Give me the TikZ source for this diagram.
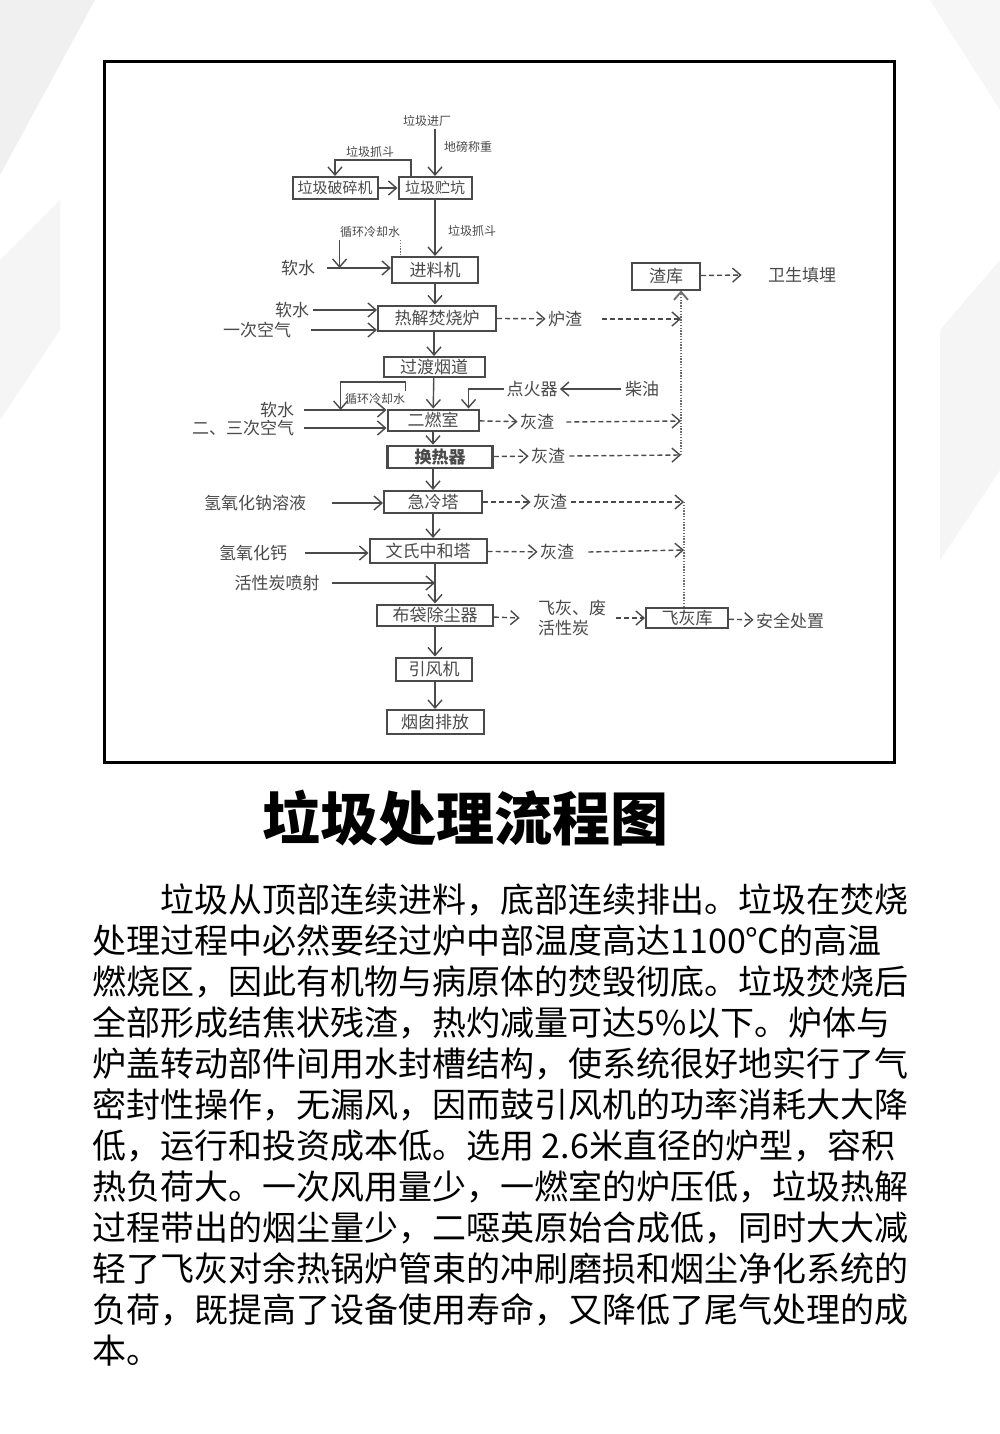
\documentclass[tikz,border=0pt]{standalone}
\usepackage{fontspec}
\setmainfont{Noto Sans CJK SC}
\usetikzlibrary{arrows.meta}
\definecolor{ink}{HTML}{4A4A4A}
\definecolor{bgtint}{HTML}{F0F0F0}
\tikzset{box/.style={draw=ink,line width=1pt,inner sep=0pt,minimum height=11pt,
    font=\fontsize{8.5}{9}\selectfont,text=ink},
  lbl/.style={inner sep=1pt,font=\fontsize{8.5}{10}\selectfont,text=ink},
  small/.style={inner sep=1pt,font=\fontsize{6}{7}\selectfont,text=ink},
  arrow/.style={draw=ink,-{Straight Barb[length=4pt,width=7pt]},line width=.7pt},
  dasharrow/.style={arrow,dash pattern=on 2.5pt off 1.5pt},
  dotline/.style={draw=ink!80,line width=.9pt,dash pattern=on .7pt off .7pt},
  dotarrow/.style={dotline,-{Straight Barb[length=4pt,width=7pt]}}}

\begin{document}
\begin{tikzpicture}[x=0.5pt,y=-0.5pt]
  \path[use as bounding box] (0,0) rectangle (1000,1434);
  % background
  \fill[white] (0,0) rectangle (1000,1434);
  \fill[bgtint] (0,0) -- (95,0) -- (0,175) -- cycle;
  \fill[bgtint!70] (0,260) -- (60,200) -- (60,330) -- (0,420) -- cycle;
  \fill[bgtint!70] (1000,260) -- (940,330) -- (940,560) -- (1000,470) -- cycle;
  \fill[bgtint!60] (1000,0) -- (930,0) -- (1000,110) -- cycle;
  \filldraw[fill=white,line width=1.5pt] (104,62) rectangle (894,762);

  % main line
  \node[small] (in) at (427,121) {垃圾进厂};
  \node[small] (scale) at (468,147) {地磅称重};
  \node[small] (grab1) at (370,152) {垃圾抓斗};
  \node[box,minimum width=42.5pt,font=\fontsize{7.5}{8}\selectfont] (crush) at (335,188) {垃圾破碎机};
  \node[box,minimum width=36.5pt,font=\fontsize{7.5}{8}\selectfont] (pit) at (435,188) {垃圾贮坑};
  \node[small] (grab2) at (472,231) {垃圾抓斗};
  \node[small] (cool1) at (370,232) {循环冷却水};
  \node[box,minimum width=43pt,minimum height=13pt] (feed) at (435,270) {进料机};
  \node[box,minimum width=59pt,minimum height=12.5pt] (furn) at (437,318) {热解焚烧炉};
  \node[box,minimum width=50.5pt,minimum height=10pt] (flue) at (434,367) {过渡烟道};
  \node[small] (cool2) at (375,399) {循环冷却水};
  \node[box,minimum width=45.5pt,minimum height=10.5pt] (sec) at (433,420) {二燃室};
  \node[box,line width=1.3pt,minimum width=52.5pt] (hx) at (440,457) {\bfseries 换热器};
  \node[box,minimum width=49pt] (quench) at (433,502) {急冷塔};
  \node[box,minimum width=58.5pt,minimum height=12pt] (venturi) at (428,551) {文氏中和塔};
  \node[box,minimum width=58pt,minimum height=10.5pt] (bag) at (435,615) {布袋除尘器};
  \node[box,minimum width=38pt,minimum height=11.5pt] (fan) at (434,669) {引风机};
  \node[box,minimum width=48.5pt,minimum height=12pt] (stack) at (435,722) {烟囱排放};

  % inputs
  \node[lbl] (sw1) at (298,268) {软水};
  \node[lbl] (sw2) at (292,310) {软水};
  \node[lbl] (air1) at (257,330) {一次空气};
  \node[lbl] (sw3) at (277,410) {软水};
  \node[lbl] (air2) at (243,428) {二、三次空气};
  \node[lbl] (ign) at (532,389) {点火器};
  \node[lbl] (oil) at (642,389) {柴油};
  \node[lbl] (naoh) at (255,503) {氢氧化钠溶液};
  \node[lbl] (caoh) at (253,553) {氢氧化钙};
  \node[lbl] (carbon) at (277,583) {活性炭喷射};

  % residues
  \node[lbl] (slag) at (565,319) {炉渣};
  \node[box,minimum width=34pt,minimum height=13.5pt] (store) at (666,276) {渣库};
  \node[lbl] (fill) at (802,275) {卫生填埋};
  \node[lbl] (ash1) at (537,422) {灰渣};
  \node[lbl] (ash2) at (548,456) {灰渣};
  \node[lbl] (ash3) at (550,502) {灰渣};
  \node[lbl] (ash4) at (557,552) {灰渣};
  \node[lbl,align=left] (fly) at (572,618) {飞灰、废\\活性炭};
  \node[box,minimum width=41pt,minimum height=10pt] (flystore) at (687,618) {飞灰库};
  \node[lbl] (safe) at (790,621) {安全处置};
  \coordinate (c1) at (681,319);
  \coordinate (c2) at (681,421);
  \coordinate (c3) at (681,455);
  \coordinate (c4) at (684,502);
  \coordinate (c5) at (684,550);

  % flow
  \draw[arrow] (in.south -| pit.north) -- (pit.north);
  \draw[arrow] ([xshift=-12pt]pit.north) -- ++(0,-16) -| (crush.north);
  \draw[arrow] (crush) -- (pit);
  \draw[arrow] (pit) -- (feed);
  \draw[arrow] (feed.south) -- (feed.south |- furn.north);
  \draw[arrow] (furn.south -| flue) -- (flue);
  \draw[arrow] (flue) -- (sec);
  \draw[arrow] (sec.south) -- (sec.south |- hx.north);
  \draw[arrow] (hx.south -| quench) -- (quench);
  \draw[arrow] (quench) -- (quench |- venturi.north);
  \draw[arrow] (venturi.south -| bag) -- (bag);
  \draw[arrow] (bag.south) -- (bag.south |- fan.north);
  \draw[arrow] (fan.south -| stack) -- (stack);

  % feeds
  \draw[arrow] ([xshift=1pt]cool1.south west) -- ([xshift=1pt]cool1.south west |- sw1);
  \draw[dotline] ([xshift=-1pt]cool1.south east) -- ([xshift=-1pt]cool1.south east |- feed.north);
  \draw[arrow] ([xshift=5pt]sw1.east) -- (feed.west |- sw1);
  \draw[arrow] ([xshift=1pt]sw2.east) -- (furn.west |- sw2);
  \draw[arrow] ([xshift=9pt]air1.east) -- (furn.west |- air1);
  \draw[arrow] ([xshift=-1pt]cool2.north east) -- ++(0,-9) -| ([xshift=-1pt]cool2.west |- sw3);
  \draw[arrow] ([xshift=4pt]sw3.east) -- (sec.west |- sw3);
  \draw[arrow] ([xshift=4pt]air2.east) -- (sec.west |- air2);
  \draw[arrow] ([xshift=-1pt]oil.west) -- (ign.east);
  \draw[arrow] (ign.west) -| ([xshift=-5.5pt]sec.north east);
  \draw[arrow] ([xshift=12pt]naoh.east) -- (quench.west |- naoh);
  \draw[arrow] ([xshift=8pt]caoh.east) -- (venturi.west |- caoh);
  \draw[arrow] ([xshift=5pt]carbon.east) -- (bag.north |- carbon);

  % residues
  \draw[dasharrow] (furn) -- (slag);
  \draw[dasharrow] ([xshift=9pt]slag.east) -- (c1);
  \draw[dotarrow] (c3) -- (c3 |- store.south);
  \draw[dasharrow] (store) -- ([xshift=-12pt]fill.west);
  \draw[dasharrow] (sec) -- (ash1);
  \draw[dasharrow] ([xshift=5pt]ash1.east) -- (c2);
  \draw[dasharrow] (hx) -- (ash2);
  \draw[dasharrow] ([xshift=1pt]ash2.east) -- (c3);
  \draw[dasharrow] (quench) -- (ash3);
  \draw[dasharrow] ([xshift=1pt]ash3.east) -- (c4);
  \draw[dasharrow] (venturi) -- (ash4);
  \draw[dasharrow] ([xshift=6pt]ash4.east) -- (c5);
  \draw[dotline] (c4) -- (c4 |- flystore.north);
  \draw[dasharrow] (bag) -- ([xshift=-8pt]fly.west);
  \draw[dasharrow] ([xshift=4pt]fly.east) -- (flystore);
  \draw[dasharrow] (flystore) -- (safe);

  % caption and text
  \node[font=\fontsize{29}{30}\selectfont\bfseries] (title) at (465,818) {垃圾处理流程图};
  \node[anchor=north west,inner sep=0pt,align=left,font=\fontsize{17}{20.5}\selectfont] (body) at (92,883) {%
    \hspace*{2em}垃圾从顶部连续进料，底部连续排出。垃圾在焚烧\\
    处理过程中必然要经过炉中部温度高达1100℃的高温\\
    燃烧区，因此有机物与病原体的焚毁彻底。垃圾焚烧后\\
    全部形成结焦状残渣，热灼减量可达5\%以下。炉体与\\
    炉盖转动部件间用水封槽结构，使系统很好地实行了气\\
    密封性操作，无漏风，因而鼓引风机的功率消耗大大降\\
    低，运行和投资成本低。选用 2.6米直径的炉型，容积\\
    热负荷大。一次风用量少，一燃室的炉压低，垃圾热解\\
    过程带出的烟尘量少，二噁英原始合成低，同时大大减\\
    轻了飞灰对余热锅炉管束的冲刷磨损和烟尘净化系统的\\
    负荷，既提高了设备使用寿命，又降低了尾气处理的成\\
    本。};
\end{tikzpicture}
\end{document}
